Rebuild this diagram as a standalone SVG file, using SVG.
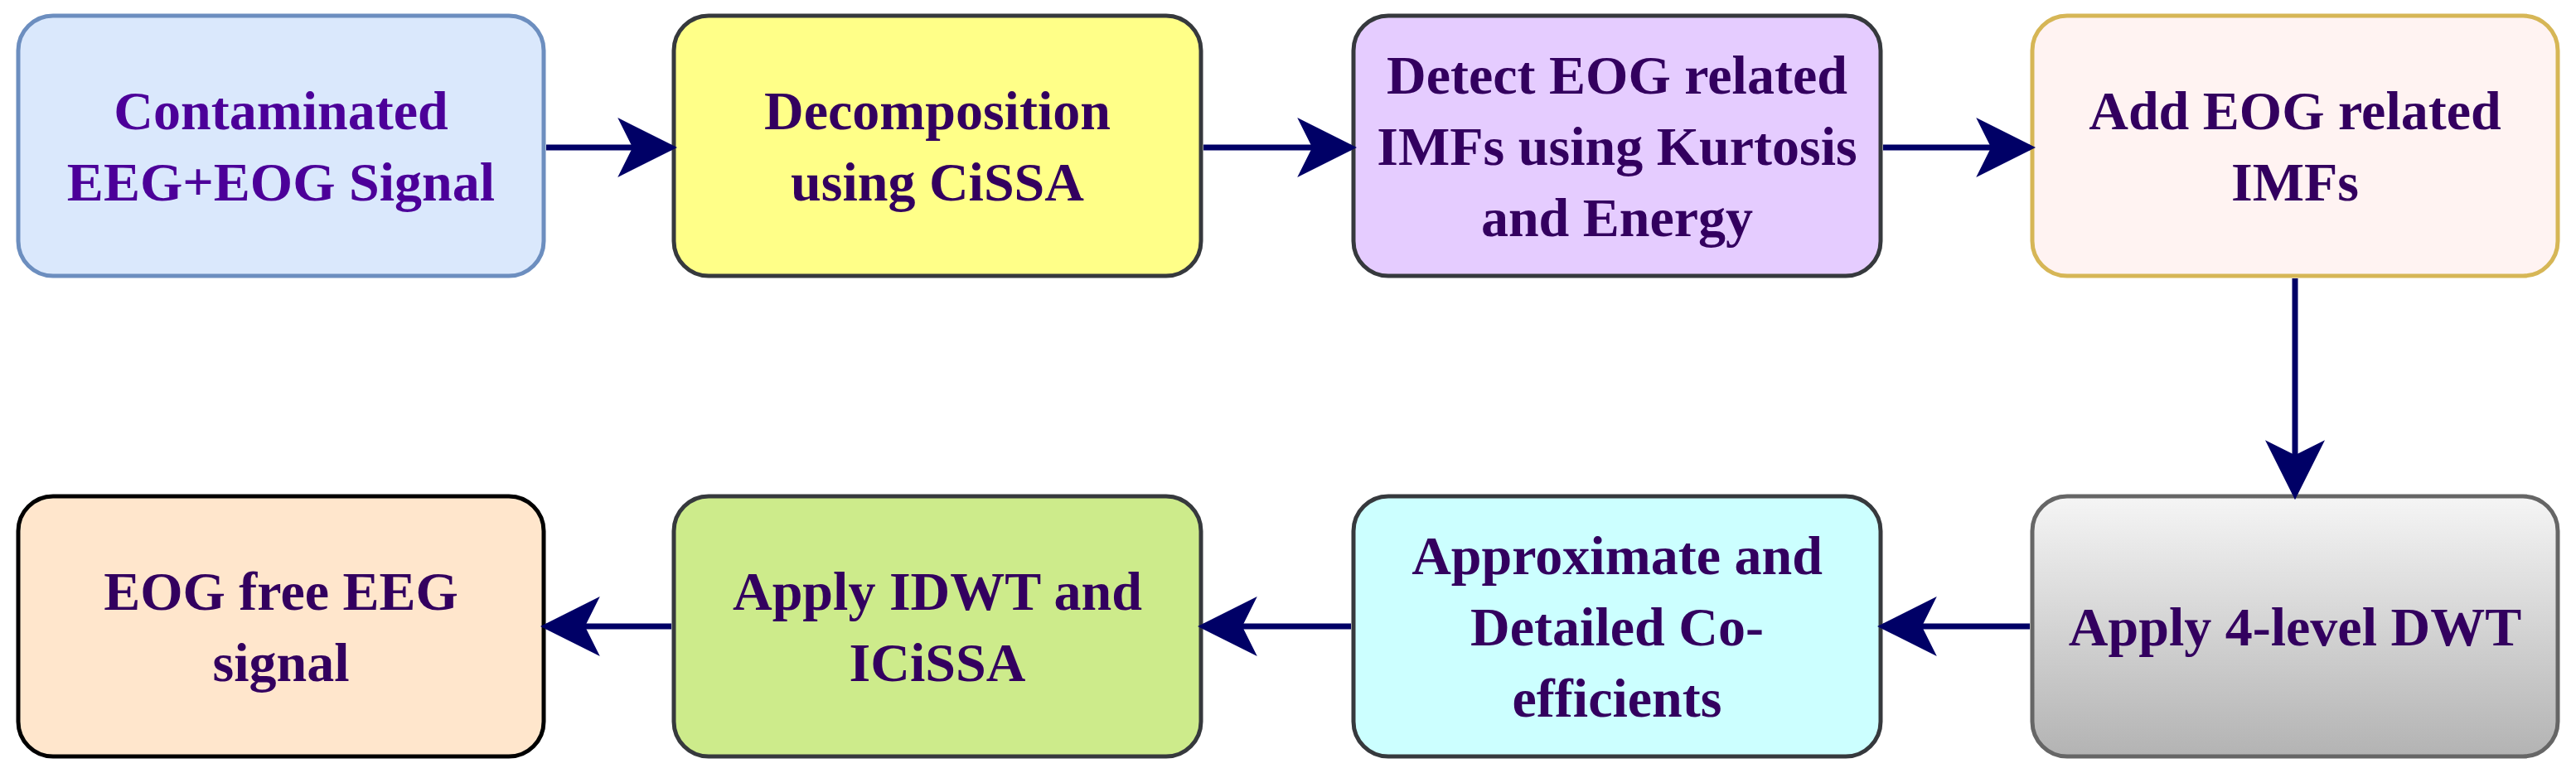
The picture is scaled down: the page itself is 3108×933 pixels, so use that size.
<svg xmlns="http://www.w3.org/2000/svg" width="3108" height="933" viewBox="0 0 3108 933">
<defs>
<linearGradient id="g" x1="0" y1="0" x2="0" y2="1"><stop offset="0" stop-color="#f5f5f5"/><stop offset="1" stop-color="#b3b3b3"/></linearGradient>
<marker id="a" viewBox="0 0 20 20" refX="19" refY="10" markerWidth="20" markerHeight="20" markerUnits="userSpaceOnUse" orient="auto"><path d="M0,0 L20,10 L0,20 L5,10 Z" fill="#000066"/></marker>
<marker id="b" viewBox="0 0 20 20" refX="18" refY="10" markerWidth="72" markerHeight="72" markerUnits="userSpaceOnUse" orient="auto"><path d="M0,0 L20,10 L0,20 L5,10 Z" fill="#000066"/></marker>
</defs>
<style>
rect{stroke-width:5}
text{font-family:"Liberation Serif",serif;font-weight:bold;font-size:66px;text-anchor:middle;fill:#33005f}
.c{stroke:#000066;stroke-width:7;fill:none}
</style>
<rect width="3108" height="933" fill="#fff" style="stroke:none"/>
<g id="n1"><rect x="22" y="19" width="634" height="314" rx="42" fill="#dae8fc" stroke="#6c8ebf"/><text x="339" y="156" style="fill:#4c0099">Contaminated</text><text x="339" y="242" style="fill:#4c0099">EEG+EOG Signal</text></g>
<g id="n2"><rect x="813" y="19" width="636" height="314" rx="42" fill="#ffff88" stroke="#36393d"/><text x="1131" y="156">Decomposition</text><text x="1131" y="242">using CiSSA</text></g>
<g id="n3"><rect x="1633" y="19" width="636" height="314" rx="42" fill="#e5ccff" stroke="#36393d"/><text x="1951" y="113">Detect EOG related</text><text x="1951" y="199">IMFs using Kurtosis</text><text x="1951" y="285">and  Energy</text></g>
<g id="n4"><rect x="2452" y="19" width="634" height="314" rx="42" fill="#fff3f2" stroke="#d6b656"/><text x="2769" y="156">Add EOG related</text><text x="2769" y="242">IMFs</text></g>
<g id="n5"><rect x="2452" y="599" width="634" height="314" rx="42" fill="url(#g)" stroke="#666666"/><text x="2769" y="779">Apply 4-level DWT</text></g>
<g id="n6"><rect x="1633" y="599" width="636" height="314" rx="42" fill="#ccffff" stroke="#36393d"/><text x="1951" y="693">Approximate and</text><text x="1951" y="779">Detailed Co-</text><text x="1951" y="865">efficients</text></g>
<g id="n7"><rect x="813" y="599" width="636" height="314" rx="42" fill="#cdeb8b" stroke="#36393d"/><text x="1131" y="736">Apply IDWT and</text><text x="1131" y="822">ICiSSA</text></g>
<g id="n8"><rect x="22" y="599" width="634" height="314" rx="42" fill="#ffe6cc" stroke="#000000"/><text x="339" y="736">EOG free EEG</text><text x="339" y="822">signal</text></g>
<g id="connectors">
<path class="c" d="M659,178 H810" marker-end="url(#b)"/>
<path class="c" d="M1452,178 H1630" marker-end="url(#b)"/>
<path class="c" d="M2272,178 H2449" marker-end="url(#b)"/>
<path class="c" d="M2769,336 V596" marker-end="url(#b)"/>
<path class="c" d="M2449,756 H2272" marker-end="url(#b)"/>
<path class="c" d="M1630,756 H1452" marker-end="url(#b)"/>
<path class="c" d="M810,756 H659" marker-end="url(#b)"/>
</g>
</svg>
